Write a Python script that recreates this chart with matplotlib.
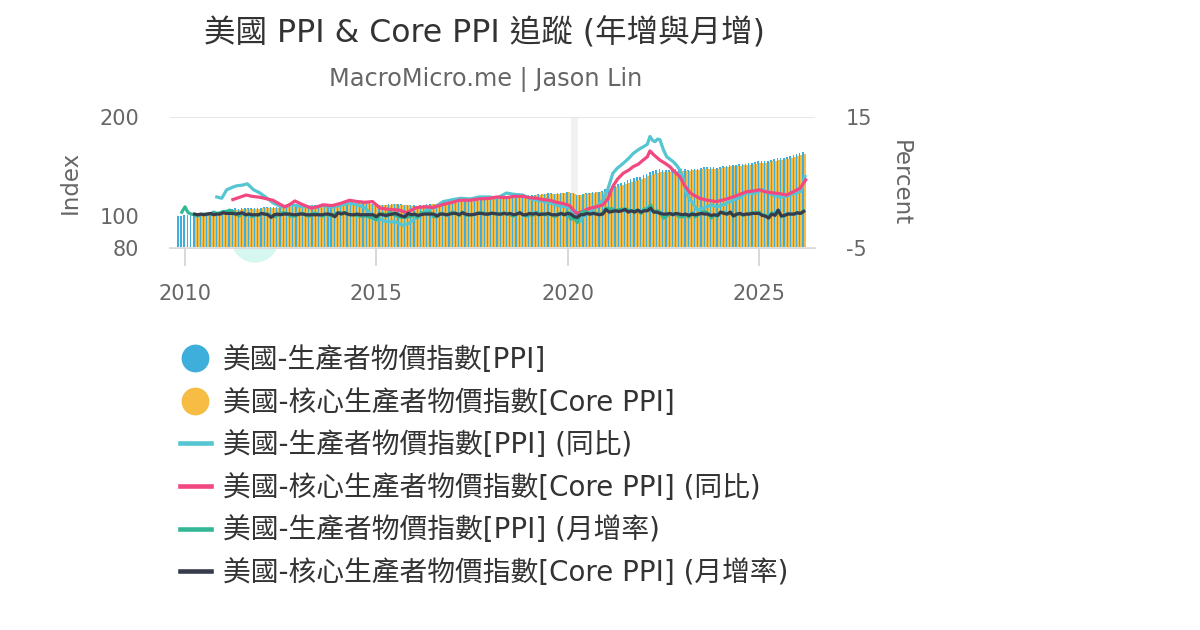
import numpy as np
import pandas as pd
import matplotlib
matplotlib.use('Agg')
import matplotlib.pyplot as plt
from matplotlib.lines import Line2D
from matplotlib.patches import Circle
from matplotlib.ticker import FixedLocator, FixedFormatter, NullLocator

plt.rcParams['font.family'] = ['DejaVu Sans', 'Noto Sans CJK TC']

# ── data ──────────────────────────────────────────────────────────────────────
# PPI index (monthly, Nov 2009 - Mar 2026)
ppi = [
    100.0, 100.2,
    100.6, 100.6, 100.8, 100.9, 100.8, 100.9, 101.1, 101.3, 101.5, 101.9, 102.2, 102.6,
    103.3, 103.9, 104.7, 105.3, 105.6, 105.5, 105.8, 105.8, 106.0, 105.8, 105.9, 105.9,
    106.2, 106.4, 106.6, 106.5, 106.3, 106.3, 106.6, 107.0, 107.3, 107.2, 107.1, 107.1,
    107.4, 107.7, 107.7, 107.6, 107.9, 108.2, 108.3, 108.2, 108.3, 108.4, 108.3, 108.5,
    108.9, 109.3, 109.7, 109.8, 109.9, 110.0, 110.0, 109.9, 109.8, 109.7, 109.4, 109.0,
    108.2, 108.2, 108.5, 108.3, 108.8, 109.1, 109.1, 108.9, 108.6, 108.3, 108.1, 108.0,
    108.0, 107.7, 108.1, 108.4, 108.8, 109.2, 109.0, 108.8, 109.1, 109.3, 109.3, 109.6,
    110.2, 110.5, 110.5, 111.0, 111.0, 111.2, 111.4, 111.6, 112.0, 112.4, 112.7, 112.9,
    113.4, 113.6, 114.0, 114.1, 114.6, 114.9, 115.0, 114.9, 115.1, 115.6, 115.7, 115.6,
    115.7, 115.7, 116.3, 116.7, 116.9, 117.0, 117.2, 117.3, 117.1, 117.5, 117.8, 117.9,
    118.6, 117.9, 117.4, 116.0, 116.3, 117.1, 117.6, 117.8, 118.3, 118.6, 118.8, 119.3,
    120.6, 121.8, 123.0, 123.8, 124.9, 126.0, 127.3, 128.4, 129.4, 130.4, 131.4, 131.8,
    133.1, 134.5, 136.2, 137.0, 137.9, 138.6, 138.0, 137.8, 138.0, 138.5, 138.6, 138.5,
    138.7, 138.8, 138.4, 139.1, 139.0, 139.2, 139.9, 140.6, 140.7, 140.7, 140.5, 140.4,
    141.0, 141.9, 142.3, 142.9, 143.0, 142.9, 143.4, 143.6, 144.0, 144.4, 145.0, 145.6,
    146.5, 146.6, 146.5, 147.3, 148.1, 148.6, 149.6, 149.9, 150.4, 151.2, 152.0, 153.0,
    154.0, 155.0, 156.2,
]

# Core PPI index (monthly, Apr 2010 - Mar 2026)
core = [
    100.4, 100.3, 100.4, 100.6, 100.8, 101.0, 101.3, 101.6, 101.9,
    102.5, 103.0, 103.7, 104.3, 104.7, 104.8, 105.1, 105.2, 105.4, 105.3, 105.4, 105.4,
    105.6, 105.8, 106.0, 106.0, 105.9, 105.9, 106.1, 106.4, 106.7, 106.7, 106.6, 106.6,
    106.9, 107.1, 107.2, 107.1, 107.3, 107.6, 107.7, 107.7, 107.8, 107.9, 107.8, 108.0,
    108.4, 108.8, 109.1, 109.2, 109.3, 109.4, 109.5, 109.4, 109.4, 109.3, 109.1, 108.7,
    107.9, 107.9, 108.1, 108.0, 108.4, 108.6, 108.7, 108.5, 108.3, 108.0, 107.8, 107.7,
    107.7, 107.4, 107.7, 108.0, 108.4, 108.7, 108.6, 108.4, 108.7, 108.9, 108.9, 109.2,
    109.7, 110.0, 110.1, 110.5, 110.6, 110.8, 111.0, 111.2, 111.5, 111.9, 112.2, 112.4,
    112.9, 113.1, 113.5, 113.6, 114.0, 114.3, 114.5, 114.5, 114.7, 115.1, 115.2, 115.2,
    115.3, 115.3, 115.8, 116.2, 116.4, 116.5, 116.7, 116.8, 116.7, 117.0, 117.3, 117.4,
    118.0, 117.5, 117.0, 115.9, 116.0, 116.6, 117.1, 117.3, 117.7, 118.0, 118.2, 118.6,
    119.6, 120.6, 121.6, 122.4, 123.3, 124.3, 125.4, 126.4, 127.3, 128.2, 129.1, 129.6,
    130.8, 132.1, 133.6, 134.5, 135.3, 136.0, 135.8, 135.8, 136.1, 136.5, 136.7, 136.8,
    137.0, 137.2, 137.0, 137.6, 137.7, 137.9, 138.5, 139.1, 139.3, 139.4, 139.3, 139.3,
    139.9, 140.6, 141.0, 141.6, 141.7, 141.8, 142.3, 142.5, 142.9, 143.3, 143.8, 144.3,
    145.1, 145.2, 145.2, 145.8, 146.5, 147.0, 147.9, 148.2, 148.7, 149.4, 150.1, 151.0,
    151.9, 152.8, 154.0,
]

# PPI YoY (%)
ppi_yoy_t = [2010.83, 2010.96, 2011.09, 2011.25, 2011.35, 2011.5, 2011.63, 2011.79, 2011.96,
             2012.15, 2012.3, 2012.45, 2012.56, 2012.8, 2013.0, 2013.2, 2013.4, 2013.6, 2013.85,
             2014.05, 2014.3, 2014.5, 2014.7, 2014.9, 2015.1, 2015.27, 2015.5, 2015.7, 2015.85,
             2015.96, 2016.15, 2016.3, 2016.5, 2016.75, 2017.0, 2017.2, 2017.45, 2017.7, 2017.97,
             2018.14, 2018.4, 2018.6, 2018.83, 2019.0, 2019.19, 2019.4, 2019.6, 2019.8, 2019.97,
             2020.1, 2020.23, 2020.33, 2020.4, 2020.66, 2020.92, 2021.05, 2021.18, 2021.3, 2021.45,
             2021.6, 2021.71, 2021.85, 2021.97, 2022.08, 2022.15, 2022.22, 2022.28, 2022.35, 2022.41,
             2022.5, 2022.59, 2022.75, 2022.85, 2022.93, 2023.02, 2023.1, 2023.18, 2023.27, 2023.4,
             2023.5, 2023.63, 2023.75, 2023.89, 2024.1, 2024.32, 2024.5, 2024.68, 2024.85, 2025.02,
             2025.1, 2025.25, 2025.4, 2025.55, 2025.7, 2025.85, 2025.98, 2026.1, 2026.2]
ppi_yoy = [2.8, 2.6, 3.9, 4.3, 4.5, 4.6, 4.8, 3.9, 3.4,
           2.6, 1.9, 1.5, 1.3, 1.6, 1.4, 1.3, 1.2, 1.5, 1.3,
           1.5, 1.9, 1.6, 1.2, -0.2, -0.6, -0.95, -1.0, -1.5, -1.2,
           -0.7, 0.0, 0.8, 1.2, 2.1, 2.4, 2.6, 2.5, 2.8, 2.8,
           2.6, 3.4, 3.2, 3.1, 2.6, 2.3, 2.1, 1.8, 1.4, 1.3,
           1.0, -0.7, -0.9, -0.2, 0.8, 2.3, 4.0, 6.4, 7.2, 7.9,
           8.7, 9.4, 10.0, 10.4, 10.8, 12.0, 11.4, 11.2, 11.6, 11.5,
           10.0, 8.9, 8.2, 7.6, 6.9, 5.5, 3.4, 2.6, 1.8, 0.8,
           1.0, 1.3, 1.6, 1.3, 1.7, 2.3, 2.7, 3.4, 3.3, 3.7,
           3.9, 3.4, 3.0, 2.8, 2.9, 3.2, 3.4, 3.7, 5.9]

# Core PPI YoY (%)
core_yoy_t = [2011.25, 2011.4, 2011.6, 2011.75, 2011.96, 2012.15, 2012.3, 2012.45, 2012.61,
              2012.75, 2012.87, 2013.05, 2013.3, 2013.45, 2013.6, 2013.85, 2014.05, 2014.3, 2014.5,
              2014.7, 2014.9, 2015.1, 2015.35, 2015.6, 2015.79, 2016.05, 2016.3, 2016.48, 2016.65,
              2016.83, 2017.0, 2017.18, 2017.45, 2017.7, 2017.97, 2018.14, 2018.4, 2018.6, 2018.83,
              2019.0, 2019.19, 2019.35, 2019.53, 2019.7, 2019.88, 2020.05, 2020.23, 2020.35, 2020.58,
              2020.75, 2020.92, 2021.05, 2021.18, 2021.3, 2021.45, 2021.6, 2021.71, 2021.85, 2021.97,
              2022.08, 2022.15, 2022.25, 2022.41, 2022.55, 2022.67, 2022.8, 2022.93, 2023.05, 2023.2,
              2023.35, 2023.45, 2023.65, 2023.89, 2024.1, 2024.32, 2024.5, 2024.68, 2024.85, 2025.02,
              2025.15, 2025.38, 2025.55, 2025.72, 2025.9, 2026.07, 2026.22]
core_yoy = [2.4, 2.7, 3.1, 2.9, 2.75, 2.5, 2.3, 1.8, 1.3,
            1.7, 2.2, 1.7, 1.1, 1.3, 1.6, 1.5, 1.8, 2.3, 2.1,
            2.0, 2.1, 1.1, 0.9, 0.8, 0.4, 1.2, 1.3, 1.2, 1.5,
            1.8, 2.0, 2.3, 2.3, 2.5, 2.6, 2.8, 2.7, 2.9, 2.9,
            2.7, 2.6, 2.4, 2.3, 2.0, 1.8, 1.5, 0.3, 0.5, 1.1,
            1.3, 1.6, 2.5, 4.4, 5.5, 6.4, 6.9, 7.4, 7.8, 8.4,
            8.9, 9.8, 9.2, 8.4, 7.9, 7.4, 6.6, 5.9, 4.6, 3.4,
            2.9, 2.6, 2.3, 2.1, 2.4, 2.8, 3.2, 3.6, 3.7, 3.9,
            3.6, 3.4, 3.3, 3.1, 3.6, 4.1, 5.4]

# PPI MoM (%), Dec 2009 - Mar 2026
ppi_mom = [
    0.5,
    1.3, 0.4, 0.2, 0.1, -0.1, 0.1, 0.2, 0.2, 0.2, 0.5, 0.3, 0.4,
    0.6, 0.6, 0.8, 0.6, 0.3, -0.1, 0.3, 0.0, 0.2, -0.2, 0.1, 0.0,
    0.3, 0.2, 0.2, -0.1, -0.2, 0.0, 0.3, 0.4, 0.3, -0.1, -0.1, 0.0,
    0.3, 0.3, 0.0, -0.1, 0.3, 0.3, 0.1, -0.1, 0.1, 0.1, -0.1, 0.2,
    0.4, 0.4, 0.4, 0.1, 0.1, 0.1, 0.0, -0.1, -0.1, -0.1, -0.3, -0.4,
    -0.7, 0.0, 0.3, -0.2, 0.5, 0.3, 0.0, -0.2, -0.3, -0.3, -0.2, -0.1,
    0.0, -0.3, 0.4, 0.3, 0.4, 0.4, -0.2, -0.2, 0.3, 0.2, 0.0, 0.3,
    0.5, 0.3, 0.0, 0.5, 0.0, 0.1, 0.1, 0.2, 0.4, 0.4, 0.3, 0.1,
    0.4, 0.2, 0.3, 0.1, 0.4, 0.3, 0.1, -0.1, 0.2, 0.4, 0.1, -0.1,
    0.1, 0.0, 0.5, 0.3, 0.2, 0.1, 0.2, 0.1, -0.2, 0.3, 0.3, 0.1,
    0.5, -0.6, -0.3, -1.1, 0.3, 0.6, 0.5, 0.2, 0.4, 0.3, 0.1, 0.4,
    1.1, 1.0, 1.0, 0.7, 0.9, 0.9, 1.0, 0.8, 0.7, 0.7, 0.8, 0.3,
    1.0, 0.9, 1.6, 0.5, 0.7, 0.5, -0.4, -0.1, 0.2, 0.3, 0.2, -0.2,
    -0.2, 0.1, -0.3, 0.4, -0.2, 0.1, 0.4, 0.6, 0.3, -0.4, 0.0, -0.1,
    0.4, 0.5, 0.2, 0.4, 0.0, 0.1, 0.3, 0.0, 0.2, 0.3, 0.4, 0.4,
    0.5, 0.1, 0.0, -0.3, 0.4, 0.1, 0.8, -0.1, -0.1, 0.3, 0.2, 0.2,
    0.4, 0.3, 0.7,
]

# Core PPI MoM (%), Apr 2010 - Mar 2026
core_mom = [
    0.2, 0.1, 0.2, 0.1, 0.2, 0.3, 0.1, 0.2, 0.2,
    0.4, 0.3, 0.3, 0.3, 0.2, 0.3, 0.4, 0.1, 0.2, 0.1, 0.1, 0.1,
    0.3, 0.2, 0.1, -0.3, 0.1, 0.2, 0.1, 0.2, 0.2, 0.2, 0.1, 0.1,
    0.2, 0.2, 0.1, 0.1, 0.1, 0.1, 0.1, 0.1, 0.2, 0.2, 0.1, -0.2,
    0.4, 0.2, 0.4, 0.2, 0.1, 0.1, 0.2, 0.1, 0.1, 0.1, 0.1, 0.1,
    -0.2, 0.2, 0.1, 0.0, 0.1, 0.2, 0.3, 0.1, -0.1, -0.2, 0.3, 0.1,
    0.2, 0.0, 0.1, 0.2, 0.2, 0.2, 0.2, -0.1, 0.2, 0.2, 0.1, 0.2,
    0.3, 0.3, 0.1, 0.4, 0.2, 0.1, 0.1, 0.2, 0.3, 0.3, 0.2, 0.2,
    0.3, 0.3, 0.2, 0.2, 0.3, 0.2, 0.3, 0.1, 0.2, 0.4, 0.1, 0.1,
    0.3, 0.2, 0.3, 0.1, 0.2, 0.2, 0.3, 0.1, 0.1, 0.1, 0.3, 0.1,
    0.3, 0.2, -0.2, -0.3, 0.1, 0.1, 0.3, 0.2, 0.3, 0.2, 0.1, 0.2,
    0.9, 0.5, 0.6, 0.7, 0.6, 0.7, 0.9, 0.5, 0.7, 0.5, 0.8, 0.5,
    0.7, 0.7, 1.1, 0.5, 0.5, 0.3, 0.2, 0.2, 0.3, 0.1, 0.3, 0.2,
    0.1, 0.2, 0.0, 0.2, 0.1, 0.2, 0.3, 0.2, 0.2, 0.0, 0.1, 0.0,
    0.5, 0.3, 0.2, 0.5, -0.1, 0.2, 0.3, 0.1, 0.2, 0.2, 0.3, 0.3,
    0.3, 0.0, -0.1, -0.4, 0.2, 0.0, 0.8, -0.1, 0.0, 0.2, 0.2, 0.2,
    0.4, 0.3, 0.6,
]

x_ticks = [2010, 2015, 2020, 2025]
title = '美國 PPI & Core PPI 追蹤 (年增與月增)'
subtitle = 'MacroMicro.me | Jason Lin'
labels = ['美國-生產者物價指數[PPI]',
          '美國-核心生產者物價指數[Core PPI]',
          '美國-生產者物價指數[PPI] (同比)',
          '美國-核心生產者物價指數[Core PPI] (同比)',
          '美國-生產者物價指數[PPI] (月增率)',
          '美國-核心生產者物價指數[Core PPI] (月增率)']

BLUE = '#3eaedb'
YELLOW = '#f6bc43'
CYAN = '#55c6d1'
PINK = '#f2477f'
GREEN = '#34b796'
DARK = '#373c4d'
GRID = '#e3e3e3'


def dec_year(start, n):
    d = pd.date_range(start, periods=n, freq='MS')
    return np.asarray(d.year + (d.month - 1) / 12.0)


t_ppi = dec_year('2009-11-01', len(ppi))
t_core = dec_year('2010-04-01', len(core))
t_ppi_mom = dec_year('2009-12-01', len(ppi_mom))
t_core_mom = dec_year('2010-04-01', len(core_mom))

# ── figure ───────────────────────────────────────────────────────────────────
fig = plt.figure(figsize=(12, 6.3), dpi=100)
ax = fig.add_axes([170 / 1200, 1 - 248.3 / 630, 645 / 1200, 131.6 / 630])
ax.set_facecolor('none')

# watermark blob, mostly hidden behind the bars
fig.add_artist(Circle((2.55, (630 - 239) / 100), 0.23, transform=fig.dpi_scale_trans,
                      color='#d6f6f0', zorder=-1))

# recession band
ax.axvspan(2020.08, 2020.26, color='#f1f1f1', zorder=0, lw=0)

ax.bar(t_ppi - 0.02, np.array(ppi) - 80, bottom=80, width=0.04,
       color=BLUE, linewidth=0, antialiased=False, zorder=1)
ax.bar(t_core + 0.026, np.array(core) - 80, bottom=80, width=0.052,
       color=YELLOW, linewidth=0, antialiased=False, zorder=1)

ax.set_yscale('log')
ax.set_ylim(80, 200)
ax.yaxis.set_major_locator(FixedLocator([80, 100, 200]))
ax.yaxis.set_major_formatter(FixedFormatter(['80', '100', '200']))
ax.yaxis.set_minor_locator(NullLocator())
ax.set_xlim(2009.608, 2026.463)
ax.set_xticks(x_ticks)
ax.set_xticklabels([str(v) for v in x_ticks])

for s in ['top', 'left', 'right']:
    ax.spines[s].set_visible(False)
ax.spines['bottom'].set_color('#d6d6d6')
ax.spines['bottom'].set_linewidth(1.3)
ax.tick_params(axis='x', length=13, width=1.3, color='#d6d6d6', pad=12.5,
               labelsize=15, labelcolor='#666666')
ax.tick_params(axis='y', length=0, pad=22, labelsize=15, labelcolor='#666666')

ax2 = ax.twinx()
ax2.set_ylim(-5, 15)
ax2.set_yticks([-5, 15])
ax2.set_yticklabels(['-5', '15'])
for s in ax2.spines.values():
    s.set_visible(False)
ax2.tick_params(axis='y', length=0, pad=22, labelsize=15, labelcolor='#666666')
ax2.yaxis.grid(True, color=GRID, lw=1.2, zorder=0)
ax2.set_axisbelow(True)

ax2.plot(ppi_yoy_t, ppi_yoy, color=CYAN, lw=2.3, zorder=3, solid_joinstyle='round')
ax2.plot(core_yoy_t, core_yoy, color=PINK, lw=2.3, zorder=4, solid_joinstyle='round')
ax2.plot(t_ppi_mom, ppi_mom, color=GREEN, lw=2.3, zorder=5, solid_joinstyle='round')
ax2.plot(t_core_mom, core_mom, color=DARK, lw=2.3, zorder=6, solid_joinstyle='round')

# texts
fig.text(485 / 1200, 1 - 34 / 630, title, ha='center', va='center',
         fontsize=22.7, color='#333333')
fig.text(486 / 1200, 1 - 79 / 630, subtitle, ha='center', va='center',
         fontsize=17.3, color='#666666')
fig.text(70 / 1200, 1 - 182 / 630, 'Index', rotation=90, ha='center', va='center',
         fontsize=16.5, color='#666666')
fig.text(900 / 1200, 1 - 183 / 630, 'Percent', rotation=270, ha='center', va='center',
         fontsize=16.5, color='#666666')

# legend
handles = [
    Line2D([], [], marker='o', ls='none', markersize=19, markerfacecolor=BLUE, markeredgecolor=BLUE),
    Line2D([], [], marker='o', ls='none', markersize=19, markerfacecolor=YELLOW, markeredgecolor=YELLOW),
    Line2D([], [], color=CYAN, lw=3.3),
    Line2D([], [], color=PINK, lw=3.3),
    Line2D([], [], color=GREEN, lw=3.3),
    Line2D([], [], color=DARK, lw=3.3),
]
fig.legend(handles, labels, loc='upper left', bbox_to_anchor=(0.15, 1 - 346 / 630),
           frameon=False, fontsize=20, labelspacing=0.525, handlelength=1.1,
           handletextpad=0.45, borderpad=0, borderaxespad=0, labelcolor='#333333')

fig.savefig('out.png', dpi=100)
